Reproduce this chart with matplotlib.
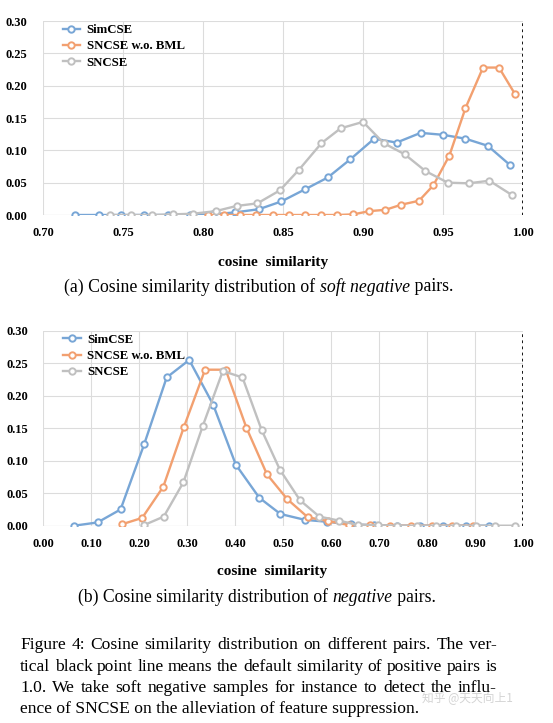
import matplotlib
matplotlib.use("Agg")
import matplotlib.pyplot as plt

# soft negative pairs (a)
top_sim_x = [0.720, 0.735, 0.749, 0.763, 0.778, 0.792, 0.806, 0.820, 0.835, 0.849,
             0.864, 0.878, 0.892, 0.907, 0.921, 0.936, 0.950, 0.964, 0.978, 0.992]
top_sim_y = [0.000, 0.000, 0.000, 0.000, 0.000, 0.000, 0.001, 0.004, 0.009, 0.021,
             0.040, 0.058, 0.086, 0.118, 0.112, 0.127, 0.124, 0.118, 0.107, 0.077]
top_bml_x = [0.803, 0.813, 0.823, 0.833, 0.844, 0.854, 0.864, 0.874, 0.884, 0.894,
             0.904, 0.914, 0.924, 0.935, 0.944, 0.954, 0.964, 0.975, 0.985, 0.995]
top_bml_y = [0.000, 0.000, 0.000, 0.000, 0.000, 0.000, 0.000, 0.000, 0.000, 0.001,
             0.006, 0.008, 0.016, 0.022, 0.046, 0.092, 0.165, 0.228, 0.228, 0.187]
top_sn_x = [0.742, 0.755, 0.768, 0.781, 0.794, 0.808, 0.821, 0.834, 0.848, 0.860,
            0.874, 0.886, 0.900, 0.913, 0.926, 0.939, 0.953, 0.966, 0.979, 0.993]
top_sn_y = [0.000, 0.000, 0.000, 0.001, 0.002, 0.006, 0.014, 0.018, 0.038, 0.070,
            0.111, 0.134, 0.144, 0.111, 0.094, 0.068, 0.050, 0.049, 0.053, 0.031]

# negative pairs (b)
bot_sim_x = [0.064, 0.113, 0.161, 0.210, 0.257, 0.304, 0.354, 0.401, 0.450, 0.494,
             0.545, 0.592, 0.640, 0.688, 0.736, 0.784, 0.832, 0.880, 0.928]
bot_sim_y = [0.000, 0.005, 0.025, 0.125, 0.228, 0.255, 0.186, 0.094, 0.043, 0.018,
             0.009, 0.006, 0.002, 0.001, 0.000, 0.000, 0.000, 0.000, 0.000]
bot_bml_x = [0.163, 0.206, 0.250, 0.293, 0.337, 0.380, 0.423, 0.466, 0.508, 0.551,
             0.594, 0.637, 0.680, 0.723, 0.766, 0.809, 0.852, 0.895]
bot_bml_y = [0.002, 0.012, 0.060, 0.152, 0.240, 0.240, 0.151, 0.079, 0.041, 0.013,
             0.007, 0.001, 0.001, 0.000, 0.000, 0.000, 0.000, 0.000]
bot_sn_x = [0.210, 0.251, 0.292, 0.332, 0.374, 0.415, 0.455, 0.493, 0.535, 0.575,
            0.615, 0.656, 0.697, 0.737, 0.778, 0.819, 0.860, 0.901, 0.942, 0.982]
bot_sn_y = [0.001, 0.014, 0.067, 0.153, 0.238, 0.228, 0.147, 0.086, 0.039, 0.014,
            0.008, 0.001, 0.001, 0.000, 0.000, 0.000, 0.000, 0.000, 0.000, 0.000]

labels = ["SimCSE", "SNCSE w.o. BML", "SNCSE"]
colors = ["#78a6d6", "#f2a070", "#c0c0c0"]

top_xticks = [0.70, 0.75, 0.80, 0.85, 0.90, 0.95, 1.00]
bot_xticks = [0.0, 0.1, 0.2, 0.3, 0.4, 0.5, 0.6, 0.7, 0.8, 0.9, 1.0]
yticks = [0.00, 0.05, 0.10, 0.15, 0.20, 0.25, 0.30]

caption_lines = [
    "Figure 4: Cosine similarity distribution on different pairs. The ver-",
    "tical black point line means the default similarity of positive pairs is",
    "1.0.  We take soft negative samples for instance to detect the influ-",
    "ence of SNCSE on the alleviation of feature suppression.",
]

SERIF = "Liberation Serif"
W, H = 553, 723
fig = plt.figure(figsize=(W / 100, H / 100), dpi=100)
renderer = fig.canvas.get_renderer()


def px_ax(left, top, right, bottom):
    return fig.add_axes([left / W, 1 - bottom / H, (right - left) / W, (bottom - top) / H])


def style_axes(ax, xlim, xticks):
    ax.set_xlim(*xlim)
    ax.set_ylim(0, 0.30)
    ax.set_xticks(xticks)
    ax.set_yticks(yticks)
    ax.set_xticklabels([f"{t:.2f}" for t in xticks])
    ax.set_yticklabels([f"{t:.2f}" for t in yticks])
    for lab in ax.get_xticklabels() + ax.get_yticklabels():
        lab.set_fontfamily(SERIF)
        lab.set_fontweight("bold")
        lab.set_fontsize(9)
    ax.tick_params(axis="both", length=0)
    ax.tick_params(axis="x", pad=8.5)
    ax.tick_params(axis="y", pad=11)
    ax.grid(True, color="#dcdcdc", linewidth=0.8)
    ax.set_axisbelow(True)
    for s in ax.spines.values():
        s.set_visible(False)
    ax.axhline(0, color="#d0d0d0", linewidth=0.8, zorder=0)
    ax.axvline(1.0, color="black", linestyle=(0, (1, 1.2)), linewidth=2.0, zorder=5)


def draw_series(ax, xs, ys):
    for x, y, c, lab in zip(xs, ys, colors, labels):
        ax.plot(x, y, color=c, linewidth=1.7, marker="o", markersize=4.6,
                markerfacecolor="white", markeredgecolor=c, markeredgewidth=1.4,
                label=lab)
    leg = ax.legend(loc="upper left", bbox_to_anchor=(0.03, 1.01), frameon=False,
                    handlelength=1.4, handletextpad=0.5, labelspacing=0.33,
                    borderaxespad=0, prop={"family": SERIF, "weight": "bold", "size": 9.2})
    return leg


def draw_segments(segments, x_center, y, size):
    # segments: list of (text, style); centered on x_center (pixels), y in pixels from top
    widths = []
    for t, st in segments:
        tmp = fig.text(0, 0, t, fontfamily=SERIF, fontstyle=st, fontsize=size)
        widths.append(tmp.get_window_extent(renderer).width)
        tmp.remove()
    x = x_center - sum(widths) / 2
    for (t, st), w in zip(segments, widths):
        fig.text(x / W, 1 - y / H, t, fontfamily=SERIF, fontstyle=st, fontsize=size,
                 va="center", ha="left")
        x += w


def draw_justified(line, x0, x1, y, size, justify=True):
    words = line.split()
    if not justify:
        fig.text(x0 / W, 1 - y / H, line, fontfamily=SERIF, fontsize=size,
                 va="center", ha="left")
        return
    widths = []
    for wd in words:
        tmp = fig.text(0, 0, wd, fontfamily=SERIF, fontsize=size)
        widths.append(tmp.get_window_extent(renderer).width)
        tmp.remove()
    gap = (x1 - x0 - sum(widths)) / (len(words) - 1)
    x = x0
    for wd, w in zip(words, widths):
        fig.text(x / W, 1 - y / H, wd, fontfamily=SERIF, fontsize=size,
                 va="center", ha="left")
        x += w + gap


ax1 = px_ax(43, 21, 523, 215)
draw_series(ax1, [top_sim_x, top_bml_x, top_sn_x], [top_sim_y, top_bml_y, top_sn_y])
style_axes(ax1, (0.70, 1.00), top_xticks)

ax2 = px_ax(43.3, 330.7, 523.3, 525.7)
draw_series(ax2, [bot_sim_x, bot_bml_x, bot_sn_x], [bot_sim_y, bot_bml_y, bot_sn_y])
style_axes(ax2, (0.0, 1.0), bot_xticks)

fig.text(273 / W, 1 - 262 / H, "cosine  similarity", fontfamily=SERIF, fontweight="bold",
         fontsize=11, ha="center", va="center")
draw_segments([("(a) Cosine similarity distribution of ", "normal"),
               ("soft negative", "italic"), (" pairs.", "normal")], 259, 287, 12.8)

fig.text(272 / W, 1 - 572 / H, "cosine  similarity", fontfamily=SERIF, fontweight="bold",
         fontsize=11, ha="center", va="center")
draw_segments([("(b) Cosine similarity distribution of ", "normal"),
               ("negative", "italic"), (" pairs.", "normal")], 257, 597, 12.7)

line_y = [645, 667, 688, 709]
for i, (ln, ly) in enumerate(zip(caption_lines, line_y)):
    draw_justified(ln, 20, 497, ly, 12.6, justify=i < len(caption_lines) - 1)

# faint site watermark over the caption, as in the source image
fig.text(467 / W, 1 - 698 / H, "知乎 @天天向上1", fontfamily=["Noto Sans CJK SC", "DejaVu Sans"],
         fontsize=8.5, color="#cfcfcf", ha="center", va="center", alpha=0.9)

fig.savefig("out.png", dpi=100, facecolor="white")
